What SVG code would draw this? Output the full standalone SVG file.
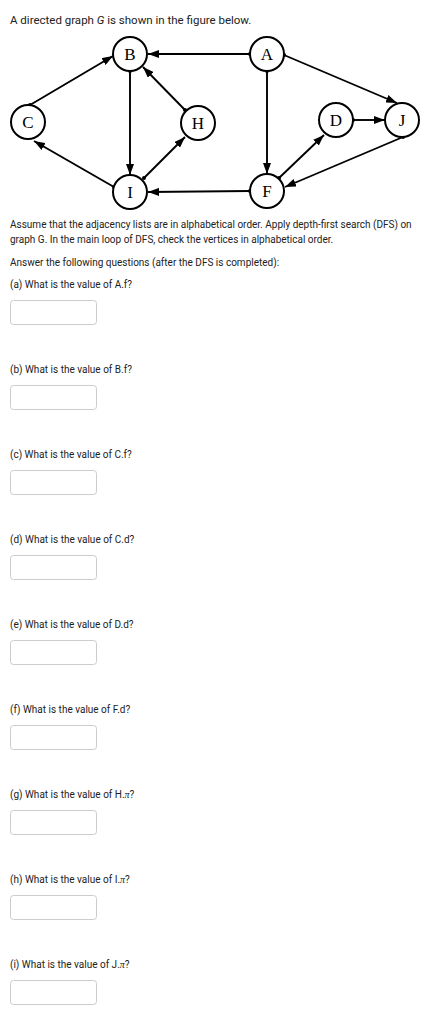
<svg xmlns="http://www.w3.org/2000/svg" width="429" height="1024" viewBox="0 0 429 1024">
<style>
.t{font-family:Roboto,"Liberation Sans",sans-serif;font-size:10px;fill:#222}
.n circle{fill:#fff;stroke:#000;stroke-width:2}
.n text{font-family:"Liberation Serif",serif;font-size:17px;fill:#000;text-anchor:middle}
.e line{stroke:#000;stroke-width:1.9;marker-end:url(#ah);marker-start:url(#dot)}
.box{fill:#fff;stroke:#ccc;stroke-width:1}
</style>
<defs>
<marker id="ah" viewBox="0 0 11 8" refX="11" refY="4" markerWidth="11" markerHeight="8" markerUnits="userSpaceOnUse" orient="auto">
<path d="M0,0 L11,4 L0,8 z" fill="#000"/>
</marker>
<marker id="dot" viewBox="0 0 4 4" refX="2" refY="2" markerWidth="4" markerHeight="4" markerUnits="userSpaceOnUse">
<circle cx="2" cy="2" r="2" fill="#000"/>
</marker>
</defs>
<rect width="429" height="1024" fill="#fff"/>
<text class="t" x="10" y="24" style="font-size:11.5px">A directed graph <tspan font-style="italic">G</tspan> is shown in the figure below.</text>
<g id="edges" class="e">
<line x1="250" y1="54" x2="148" y2="54"/>
<line x1="30" y1="105" x2="113" y2="56"/>
<line x1="130" y1="71" x2="130" y2="175"/>
<line x1="185" y1="110" x2="143" y2="67"/>
<line x1="144" y1="178" x2="185" y2="137"/>
<line x1="114" y1="187" x2="34" y2="141"/>
<line x1="250" y1="191" x2="148" y2="192"/>
<line x1="267" y1="71" x2="267" y2="174"/>
<line x1="284" y1="55" x2="397" y2="103"/>
<line x1="353" y1="120" x2="385" y2="120"/>
<line x1="279" y1="178" x2="324" y2="135"/>
<line x1="403" y1="137" x2="285" y2="187"/>
</g>
<g id="node-A" class="n"><circle cx="267" cy="54" r="17"/><text x="267" y="60">A</text></g>
<g id="node-B" class="n"><circle cx="130" cy="54" r="17"/><text x="130" y="60">B</text></g>
<g id="node-C" class="n"><circle cx="28" cy="122" r="17"/><text x="28" y="128">C</text></g>
<g id="node-H" class="n"><circle cx="198" cy="123" r="17"/><text x="198" y="129">H</text></g>
<g id="node-D" class="n"><circle cx="336" cy="120" r="17"/><text x="336" y="126">D</text></g>
<g id="node-J" class="n"><circle cx="402" cy="120" r="17"/><text x="402" y="126">J</text></g>
<g id="node-I" class="n"><circle cx="130" cy="192" r="17"/><text x="130" y="198">I</text></g>
<g id="node-F" class="n"><circle cx="267" cy="191" r="17"/><text x="267" y="197">F</text></g>
<text class="t" x="10" y="228">Assume that the adjacency lists are in alphabetical order. Apply depth-first search (DFS) on</text>
<text class="t" x="10" y="243">graph G. In the main loop of DFS, check the vertices in alphabetical order.</text>
<text class="t" x="10" y="266">Answer the following questions (after the DFS is completed):</text>
<g id="questions">
<text class="t" x="10" y="288">(a) What is the value of A.f?</text>
<rect class="box" x="10.5" y="300.5" width="86" height="24" rx="3"/>
<text class="t" x="10" y="373">(b) What is the value of B.f?</text>
<rect class="box" x="10.5" y="385.5" width="86" height="24" rx="3"/>
<text class="t" x="10" y="458">(c) What is the value of C.f?</text>
<rect class="box" x="10.5" y="470.5" width="86" height="24" rx="3"/>
<text class="t" x="10" y="543">(d) What is the value of C.d?</text>
<rect class="box" x="10.5" y="555.5" width="86" height="24" rx="3"/>
<text class="t" x="10" y="628">(e) What is the value of D.d?</text>
<rect class="box" x="10.5" y="640.5" width="86" height="24" rx="3"/>
<text class="t" x="10" y="713">(f) What is the value of F.d?</text>
<rect class="box" x="10.5" y="725.5" width="86" height="24" rx="3"/>
<text class="t" x="10" y="798">(g) What is the value of H.<tspan font-family="Liberation Serif" font-style="italic">π</tspan>?</text>
<rect class="box" x="10.5" y="810.5" width="86" height="24" rx="3"/>
<text class="t" x="10" y="883">(h) What is the value of I.<tspan font-family="Liberation Serif" font-style="italic">π</tspan>?</text>
<rect class="box" x="10.5" y="895.5" width="86" height="24" rx="3"/>
<text class="t" x="10" y="968">(i) What is the value of J.<tspan font-family="Liberation Serif" font-style="italic">π</tspan>?</text>
<rect class="box" x="10.5" y="980.5" width="86" height="24" rx="3"/>
</g>
</svg>
